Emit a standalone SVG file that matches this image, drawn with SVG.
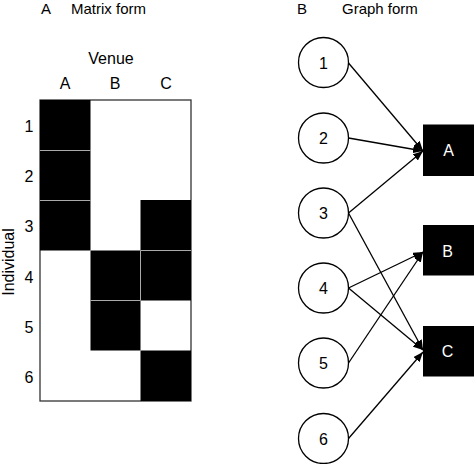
<svg xmlns="http://www.w3.org/2000/svg" width="474" height="464" viewBox="0 0 474 464">
<style>
text{font-family:"Liberation Sans","DejaVu Sans",sans-serif;fill:#000}
.t{font-size:15px}
.l{font-size:16px;text-anchor:middle;dominant-baseline:central}
.w{fill:#fff}
.cell{fill:#000}
.sep{stroke:#aaa;stroke-width:1}
.node circle{fill:#fff;stroke:#000;stroke-width:1.3}
.venue rect{fill:#000}
.edge{stroke:#000;stroke-width:1.3;fill:none;marker-end:url(#ah)}
</style>
<defs>
<marker id="ah" markerUnits="userSpaceOnUse" markerWidth="10" markerHeight="8" refX="10" refY="4" orient="auto">
<path d="M0,0 L10,4 L0,8 z" fill="#000"/>
</marker>
</defs>
<rect width="474" height="464" fill="#fff"/>

<!-- Panel A -->
<text class="t" x="41" y="14">A</text>
<text class="t" x="71" y="14">Matrix form</text>
<text class="l" x="111" y="58">Venue</text>
<text class="l" x="65" y="83">A</text>
<text class="l" x="115" y="83">B</text>
<text class="l" x="166" y="83">C</text>
<text class="l" transform="translate(8.5,262) rotate(-90)">Individual</text>
<g id="matrix">
<rect x="40" y="100" width="151" height="301" fill="#fff" stroke="#333" stroke-width="1.3"/>
<rect class="cell" x="40" y="100" width="50.5" height="150.5"/>
<rect class="cell" x="140.5" y="200" width="50.5" height="100.5"/>
<rect class="cell" x="90.5" y="250.5" width="50" height="100"/>
<rect class="cell" x="140.5" y="350.5" width="50.5" height="50.5"/>
<line class="sep" x1="40" y1="150.5" x2="90.5" y2="150.5"/>
<line class="sep" x1="40" y1="200.5" x2="90.5" y2="200.5"/>
<line class="sep" x1="140.5" y1="250.5" x2="191" y2="250.5"/>
<line class="sep" x1="90.5" y1="300.5" x2="140.5" y2="300.5"/>
<line class="sep" x1="140.5" y1="250.5" x2="140.5" y2="300.5"/>
</g>
<text class="l" x="29" y="126">1</text>
<text class="l" x="29" y="176">2</text>
<text class="l" x="29" y="226">3</text>
<text class="l" x="29" y="277">4</text>
<text class="l" x="29" y="327">5</text>
<text class="l" x="29" y="377">6</text>

<!-- Panel B -->
<text class="t" x="297" y="14">B</text>
<text class="t" x="342" y="14">Graph form</text>

<g id="connectors">
<line class="edge" x1="348.5" y1="63" x2="423" y2="151"/>
<line class="edge" x1="348.5" y1="138" x2="423" y2="151"/>
<line class="edge" x1="348.5" y1="213" x2="423" y2="151"/>
<line class="edge" x1="348.5" y1="213" x2="423" y2="350"/>
<line class="edge" x1="348.5" y1="288" x2="423" y2="252"/>
<line class="edge" x1="348.5" y1="288" x2="423" y2="350"/>
<line class="edge" x1="348.5" y1="363" x2="423" y2="252"/>
<line class="edge" x1="348.5" y1="438.5" x2="423" y2="352"/>
</g>

<g id="n1" class="node"><circle cx="323.5" cy="62.5" r="25"/><text class="l" x="323.5" y="63">1</text></g>
<g id="n2" class="node"><circle cx="323.5" cy="138" r="25"/><text class="l" x="323.5" y="138.5">2</text></g>
<g id="n3" class="node"><circle cx="323.5" cy="213" r="25"/><text class="l" x="323.5" y="213.5">3</text></g>
<g id="n4" class="node"><circle cx="323.5" cy="288" r="25"/><text class="l" x="323.5" y="288.5">4</text></g>
<g id="n5" class="node"><circle cx="323.5" cy="363" r="25"/><text class="l" x="323.5" y="363.5">5</text></g>
<g id="n6" class="node"><circle cx="323.5" cy="438.5" r="25"/><text class="l" x="323.5" y="439">6</text></g>

<g id="vA" class="venue"><rect x="423" y="124.5" width="51" height="51.5"/><text class="l w" x="448.5" y="150.5">A</text></g>
<g id="vB" class="venue"><rect x="423" y="225" width="51" height="50.5"/><text class="l w" x="447.5" y="251">B</text></g>
<g id="vC" class="venue"><rect x="423" y="326" width="51" height="50.5"/><text class="l w" x="447.5" y="351">C</text></g>
</svg>
